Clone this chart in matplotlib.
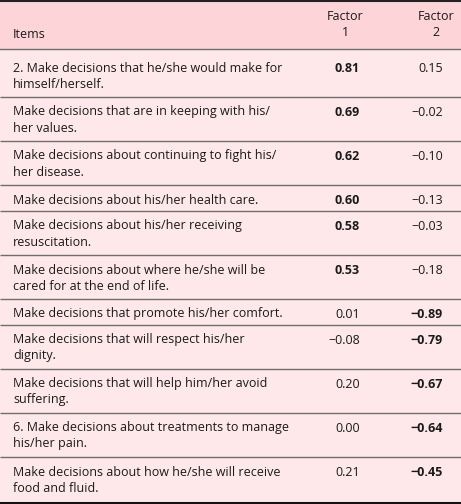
import matplotlib
matplotlib.use("Agg")
import matplotlib.pyplot as plt
from matplotlib.patches import Rectangle

items = [
    "2. Make decisions that he/she would make for\nhimself/herself.",
    "Make decisions that are in keeping with his/\nher values.",
    "Make decisions about continuing to fight his/\nher disease.",
    "Make decisions about his/her health care.",
    "Make decisions about his/her receiving\nresuscitation.",
    "Make decisions about where he/she will be\ncared for at the end of life.",
    "Make decisions that promote his/her comfort.",
    "Make decisions that will respect his/her\ndignity.",
    "Make decisions that will help him/her avoid\nsuffering.",
    "6. Make decisions about treatments to manage\nhis/her pain.",
    "Make decisions about how he/she will receive\nfood and fluid.",
]
factor1 = [0.81, 0.69, 0.62, 0.60, 0.58, 0.53, 0.01, -0.08, 0.20, 0.00, 0.21]
factor2 = [0.15, -0.02, -0.10, -0.13, -0.03, -0.18, -0.89, -0.79, -0.67, -0.64, -0.45]
col_headers = ["Items", "Factor\n1", "Factor\n2"]

W, H = 461, 504
fig = plt.figure(figsize=(W / 100, H / 100), dpi=100)
ax = fig.add_axes([0, 0, 1, 1])
ax.set_xlim(0, W)
ax.set_ylim(H, 0)
ax.axis("off")

FONT = "Open Sans"
FS = 9.0
HEADER_BG = "#fdd5d8"
BODY_BG = "#fee8ea"
LINE = "#6e6e6e"
TXT = "#1a1a1a"

header_bottom = 49
ax.add_patch(Rectangle((0, 0), W, header_bottom, color=HEADER_BG, lw=0))
ax.add_patch(Rectangle((0, header_bottom), W, H - header_bottom, color=BODY_BG, lw=0))

x_item = 13
x_f1 = 360
x_f2 = 443
c_f1 = 345
c_f2 = 436

# header
ax.text(x_item, 34, col_headers[0], fontsize=FS, family=FONT, va="center", ha="left", color=TXT)
for cx, hdr in [(c_f1, col_headers[1]), (c_f2, col_headers[2])]:
    l1, l2 = hdr.split("\n")
    ax.text(cx, 17, l1, fontsize=FS, family=FONT, va="center", ha="center", color=TXT)
    ax.text(cx, 33, l2, fontsize=FS, family=FONT, va="center", ha="center", color=TXT)

def fmt(v):
    s = f"{abs(v):.2f}"
    return ("\u2212" + s) if v < 0 else s

y = header_bottom
for i, (it, a, b) in enumerate(zip(items, factor1, factor2)):
    nlines = it.count("\n") + 1
    h = 44 if nlines == 2 else 26
    if i == 0:
        h += 4
    first = y + (19 if i == 0 else 15)
    for k, line in enumerate(it.split("\n")):
        ax.text(x_item, first + 16 * k, line, fontsize=FS, family=FONT, va="center", ha="left", color=TXT)
    bold_a = abs(a) >= abs(b)
    ax.text(x_f1, first, fmt(a), fontsize=FS, family=FONT, va="center", ha="right",
            fontweight="bold" if bold_a else "normal", color=TXT)
    ax.text(x_f2, first, fmt(b), fontsize=FS, family=FONT, va="center", ha="right",
            fontweight="normal" if bold_a else "bold", color=TXT)
    y += h
    if i < len(items) - 1:
        ax.plot([0, W], [y, y], color=LINE, lw=1.0, solid_capstyle="butt")

ax.plot([0, W], [header_bottom, header_bottom], color=LINE, lw=1.0)
ax.plot([0, W], [0.5, 0.5], color="#222222", lw=1.5)
ax.plot([0, W], [H - 1.5, H - 1.5], color="#111111", lw=1.5)

fig.savefig("out.png", dpi=100)
